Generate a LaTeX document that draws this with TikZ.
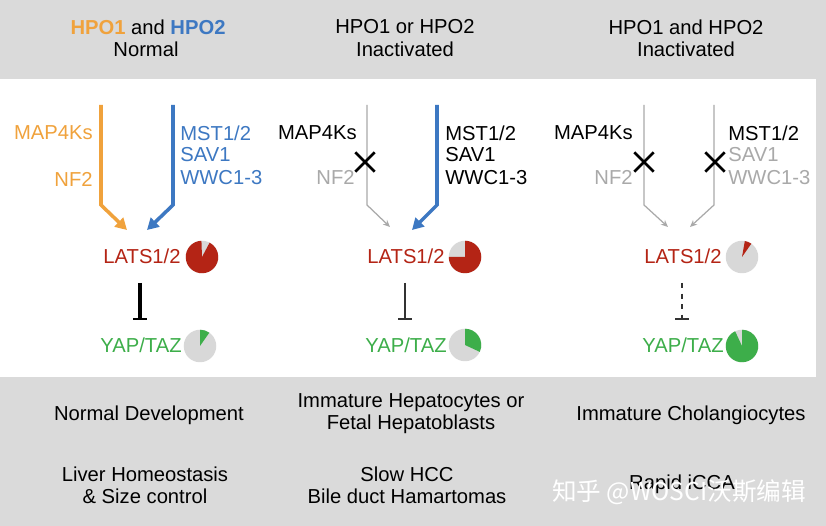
\documentclass[tikz,border=0pt]{standalone}
\usepackage{fontspec}
\setmainfont{Liberation Sans}
\newfontfamily\cjk{Noto Sans CJK SC}
\usetikzlibrary{arrows.meta,shapes.misc}
\definecolor{hpoorange}{HTML}{F0A23C}
\definecolor{hpoblue}{HTML}{3D78C2}
\definecolor{latsred}{HTML}{B42415}
\definecolor{yapgreen}{HTML}{3DAE4A}
\definecolor{bandgray}{HTML}{DADADA}
\definecolor{piegray}{HTML}{D8D8D8}
\definecolor{offgray}{HTML}{A9A9A9}

\begin{document}
\begin{tikzpicture}[x=0.02cm,y=-0.02cm,
		txt node/.style={font=\fontsize{11.5}{12.5}\selectfont,inner sep=0pt,align=center},
		pie node/.style={circle,fill=piegray,minimum size=18.5pt,inner sep=0pt},
		strong line/.style={line width=2pt,-{Triangle[length=6.5pt,width=7pt]}},
		weak line/.style={offgray,line width=0.7pt,-{Stealth[length=4pt,width=3.5pt]}},
		cut node/.style={cross out,draw,line width=1.5pt,minimum size=9.5pt,inner sep=0pt},
		inhibit/.style={-{Bar[width=7.5pt,line width=1.1pt]}}]
		% background bands
		\fill[bandgray] (0,0) rectangle (826,526);
		\fill[white] (0,79) rectangle (816,377);
		% headers
		\node[txt node] (head1) at (148,27) {\textcolor{hpoorange}{\textbf{HPO1}} and \textcolor{hpoblue}{\textbf{HPO2}}};
		\node[txt node] (head1b) at (146,49) {Normal};
		\node[txt node] (head2) at (405,27) {HPO1 or HPO2};
		\node[txt node] (head2b) at (405,49) {Inactivated};
		\node[txt node] (head3) at (686,27) {HPO1 and HPO2};
		\node[txt node] (head3b) at (686,49) {Inactivated};

		% panel 1: normal
		\node[txt node,anchor=east,text=hpoorange] (map1) at (93,133) {MAP4Ks};
		\node[txt node,anchor=east,text=hpoorange] (nf1) at (93,179) {NF2};
		\node[txt node,anchor=west,text=hpoblue] (mst1) at (180,133) {MST1/2};
		\node[txt node,anchor=west,text=hpoblue] (sav1) at (180,155) {SAV1};
		\node[txt node,anchor=west,text=hpoblue] (wwc1) at (180,178) {WWC1-3};
		\node[txt node,text=latsred] (lats1) at (142,256) {LATS1/2};
		\node[txt node,text=yapgreen] (yap1) at (141,345) {YAP/TAZ};
		\node[pie node] (lpie1) at (202,257) {};
		\node[pie node] (ypie1) at (200,346) {};
		\fill[latsred] (lpie1.center) -- ++(92:9.25pt) arc[start angle=92,end angle=422,radius=9.25pt] -- cycle;
		\fill[yapgreen] (ypie1.center) -- ++(55:9.25pt) arc[start angle=55,end angle=90,radius=9.25pt] -- cycle;
		\coordinate (o1top) at (101,105);
		\coordinate (o1bend) at (101,205);
		\coordinate (o1end) at (127,230);
		\coordinate (b1top) at (173,105);
		\coordinate (b1bend) at (173,205);
		\coordinate (b1end) at (147,230);
		\draw[strong line,hpoorange] (o1top) -- (o1bend) -- (o1end);
		\draw[strong line,hpoblue] (b1top) -- (b1bend) -- (b1end);
		\draw[inhibit,line width=1.8pt] (140,283) -- (140,320);

		% panel 2: one branch off
		\node[txt node,anchor=east] (map2) at (357,133) {MAP4Ks};
		\node[txt node,anchor=east,text=offgray] (nf2) at (355,177) {NF2};
		\node[txt node,anchor=west] (mst2) at (445,133) {MST1/2};
		\node[txt node,anchor=west] (sav2) at (445,155) {SAV1};
		\node[txt node,anchor=west] (wwc2) at (445,178) {WWC1-3};
		\node[txt node,text=latsred] (lats2) at (406,256) {LATS1/2};
		\node[txt node,text=yapgreen] (yap2) at (406,345) {YAP/TAZ};
		\node[pie node] (lpie2) at (465,257) {};
		\node[pie node] (ypie2) at (465,345) {};
		\fill[latsred] (lpie2.center) -- ++(180:9.25pt) arc[start angle=180,end angle=450,radius=9.25pt] -- cycle;
		\fill[yapgreen] (ypie2.center) -- ++(-25:9.25pt) arc[start angle=-25,end angle=90,radius=9.25pt] -- cycle;
		\coordinate (g2top) at (367,105);
		\coordinate (g2bend) at (367,205);
		\coordinate (g2end) at (390,227);
		\coordinate (b2top) at (437,105);
		\coordinate (b2bend) at (437,205);
		\coordinate (b2end) at (412,230);
		\draw[weak line] (g2top) -- (g2bend) -- (g2end);
		\draw[strong line,hpoblue] (b2top) -- (b2bend) -- (b2end);
		\node[cut node] (cut2) at (365,162) {};
		\draw[inhibit,line width=0.8pt,black!80] (405,283) -- (405,320);

		% panel 3: both branches off
		\node[txt node,anchor=east] (map3) at (633,133) {MAP4Ks};
		\node[txt node,anchor=east,text=offgray] (nf3) at (633,177) {NF2};
		\node[txt node,anchor=west] (mst3) at (728,133) {MST1/2};
		\node[txt node,anchor=west,text=offgray] (sav3) at (728,155) {SAV1};
		\node[txt node,anchor=west,text=offgray] (wwc3) at (728,178) {WWC1-3};
		\node[txt node,text=latsred] (lats3) at (683,256) {LATS1/2};
		\node[txt node,text=yapgreen] (yap3) at (683,345) {YAP/TAZ};
		\node[pie node] (lpie3) at (742,257) {};
		\node[pie node] (ypie3) at (742,346) {};
		\fill[latsred] (lpie3.center) -- ++(55:9.25pt) arc[start angle=55,end angle=80,radius=9.25pt] -- cycle;
		\fill[yapgreen] (ypie3.center) -- ++(115:9.25pt) arc[start angle=115,end angle=450,radius=9.25pt] -- cycle;
		\coordinate (g3top) at (644,105);
		\coordinate (g3bend) at (644,205);
		\coordinate (g3end) at (668,227);
		\coordinate (h3top) at (714,105);
		\coordinate (h3bend) at (714,205);
		\coordinate (h3end) at (690,227);
		\draw[weak line] (g3top) -- (g3bend) -- (g3end);
		\draw[weak line] (h3top) -- (h3bend) -- (h3end);
		\node[cut node] (cut3a) at (644,162) {};
		\node[cut node] (cut3b) at (715,162) {};
		\draw[inhibit,line width=0.8pt,black!80,dashed] (682,283) -- (682,320);

		% outcomes
		\node[txt node] (out1) at (149,415) {Normal Development};
		\node[txt node] (out2) at (411,414) {Immature Hepatocytes or\\Fetal Hepatoblasts};
		\node[txt node] (out3) at (691,415) {Immature Cholangiocytes};
		\node[txt node] (dis1) at (145,485) {Liver Homeostasis\\\& Size control};
		\node[txt node] (dis2) at (407,485) {Slow HCC\\Bile duct Hamartomas};
		\node[txt node] (dis3) at (682,484) {Rapid iCCA};
		\node[inner sep=0pt,text=white,font=\cjk\fontsize{14}{16}\selectfont] (mark) at (679,492) {知乎 @WOSCI沃斯编辑};
\end{tikzpicture}
\end{document}
